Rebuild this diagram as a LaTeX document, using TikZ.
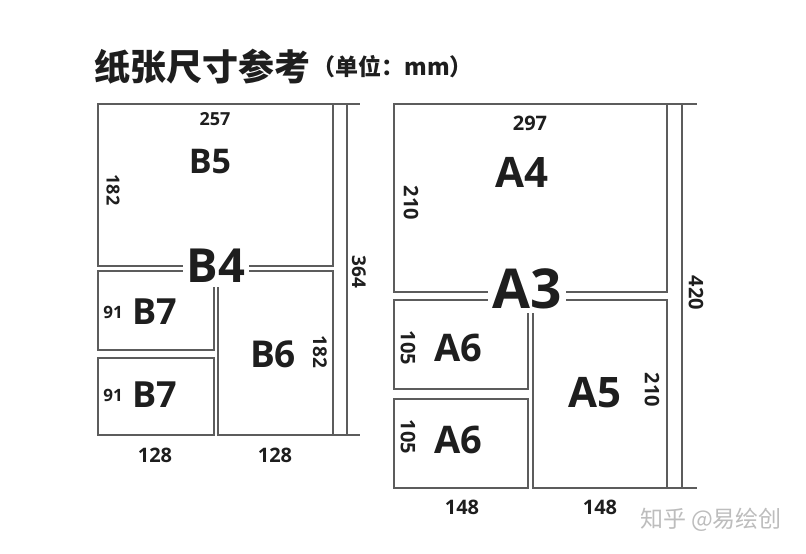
\documentclass[tikz,border=0pt]{standalone}
\usepackage{fontspec}
\setmainfont{Open Sans}
\newfontfamily\cjk{Noto Sans CJK SC}
\definecolor{edgegray}{HTML}{5C5C5C}
\definecolor{ink}{HTML}{1E1E1E}
\definecolor{markgray}{HTML}{BDBDBD}

\begin{document}
\begin{tikzpicture}[x=1pt,y=-1pt,
  sheet/.style={draw=edgegray,line width=2pt},
  size label/.style={font=\bfseries\fontsize{#1}{#1}\selectfont,text=ink,inner sep=0pt},
  dim label/.style={font=\bfseries\fontsize{#1}{#1}\selectfont,text=ink,inner sep=0pt},
  cut label/.style={font=\bfseries\fontsize{#1}{#1}\selectfont,text=ink,fill=white,inner sep=4pt}]

  \useasboundingbox[fill=white] (0,0) rectangle (806,554);

  % title
  \node[anchor=west,inner sep=0pt,text=ink] (title) at (94,67)
    {\cjk\bfseries\fontsize{36}{36}\selectfont 纸张尺寸参考};
  \node[anchor=west,inner sep=0pt,text=ink] (unit) at ([xshift=2pt]title.east)
    {\cjk\bfseries\fontsize{23}{23}\selectfont （单位：mm）};

  % B sizes
  \draw[sheet] (98,104) rectangle (333,266);
  \draw[sheet] (98,271) rectangle (214,350);
  \draw[sheet] (98,358) rectangle (214,435);
  \draw[sheet] (218,271) rectangle (333,435);
  \draw[sheet] (333,104) -- (360,104) (333,435) -- (360,435) (347,104) -- (347,435);

  \node[cut label=47] (b4) at (216,266) {B4};
  \node[size label=34] (b5) at (210,162) {B5};
  \node[size label=36] (b7a) at (155,312) {B7};
  \node[size label=36] (b7b) at (155,395) {B7};
  \node[size label=37] (b6) at (273,354) {B6};

  \node[dim label=18] (b5w) at (215,119) {257};
  \node[dim label=18,rotate=-90] (b5h) at (113,190) {182};
  \node[dim label=17] (b7ah) at (113,312) {91};
  \node[dim label=17] (b7bh) at (113,395) {91};
  \node[dim label=19,rotate=-90] (b6h) at (320,352) {182};
  \node[dim label=19,rotate=-90] (b4h) at (359,272) {364};
  \node[dim label=20] (b7w) at (155,455) {128};
  \node[dim label=20] (b6w) at (275,455) {128};

  % A sizes
  \draw[sheet] (394,104) rectangle (667,292);
  \draw[sheet] (394,300) rectangle (528,389);
  \draw[sheet] (394,399) rectangle (528,488);
  \draw[sheet] (533,300) rectangle (667,488);
  \draw[sheet] (667,104) -- (697,104) (667,488) -- (697,488) (682,104) -- (682,488);

  \node[cut label=55] (a3) at (527,289) {A3};
  \node[size label=42] (a4) at (522,172) {A4};
  \node[size label=38] (a6a) at (458,348) {A6};
  \node[size label=38] (a6b) at (458,440) {A6};
  \node[size label=42] (a5) at (595,393) {A5};

  \node[dim label=20] (a4w) at (530,123) {297};
  \node[dim label=20,rotate=-90] (a4h) at (411,203) {210};
  \node[dim label=20,rotate=-90] (a6ah) at (408,348) {105};
  \node[dim label=20,rotate=-90] (a6bh) at (408,437) {105};
  \node[dim label=20,rotate=-90] (a5h) at (652,390) {210};
  \node[dim label=20,rotate=-90] (a3h) at (696,293) {420};
  \node[dim label=20] (a6w) at (462,507) {148};
  \node[dim label=20] (a5w) at (600,507) {148};

  % watermark
  \node[inner sep=0pt,text=markgray] (mark) at (711,520)
    {\cjk\fontsize{23}{23}\selectfont 知乎 @易绘创};
\end{tikzpicture}
\end{document}
